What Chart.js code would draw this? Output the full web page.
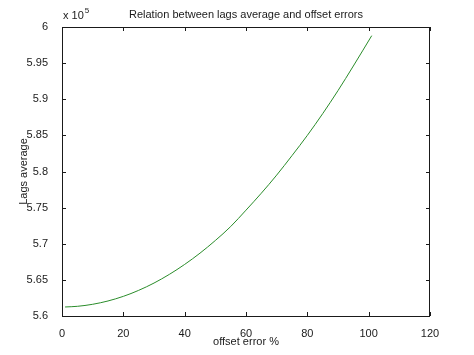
<!DOCTYPE html>
<html>
<head>
<meta charset="utf-8">
<script src="https://cdn.jsdelivr.net/npm/chart.js@4/dist/chart.umd.min.js"></script>
<style>
html,body{margin:0;padding:0;background:#fff;}
#wrap{width:474px;height:355px;}
</style>
</head>
<body>
<div id="wrap"><canvas id="c" width="474" height="355"></canvas></div>
<script>
// Data
const offsetError = [1, 5, 10, 15, 20, 25, 30, 35, 40, 45, 50, 55, 60, 65, 70, 75, 80, 85, 90, 95, 101];
const lagsAverage = [561250, 561340, 561620, 562080, 562720, 563550, 564560, 565760, 567140, 568700, 570450, 572380, 574650, 577000, 579500, 582200, 585000, 588000, 591200, 594600, 598800];
const xTicks = [0, 20, 40, 60, 80, 100, 120];
const yTicks = [560000, 565000, 570000, 575000, 580000, 585000, 590000, 595000, 600000];
const titleText = 'Relation between lags average and offset errors';
const xLabel = 'offset error %';
const yLabel = 'Lags average';

const FONT = '"Liberation Sans", Arial, sans-serif';
const INK = '#1a1a1a';

const points = offsetError.map((x, i) => ({x: x, y: lagsAverage[i]}));

const boxPlugin = {
  id: 'matlabBox',
  afterDraw(chart) {
    const {ctx, chartArea: a, scales} = chart;
    ctx.save();
    ctx.strokeStyle = INK;
    ctx.lineWidth = 1;
    ctx.beginPath();
    ctx.rect(Math.round(a.left) + 0.5, Math.round(a.top) + 0.5,
             Math.round(a.right - a.left) - 1, Math.round(a.bottom - a.top));
    ctx.stroke();
    const tl = 4;
    ctx.beginPath();
    xTicks.forEach(v => {
      const px = Math.round(scales.x.getPixelForValue(v)) + 0.5;
      ctx.moveTo(px, a.bottom); ctx.lineTo(px, a.bottom - tl);
      ctx.moveTo(px, a.top); ctx.lineTo(px, a.top + tl);
    });
    yTicks.forEach(v => {
      const py = Math.round(scales.y.getPixelForValue(v)) + 0.5;
      ctx.moveTo(a.left, py); ctx.lineTo(a.left + tl, py);
      ctx.moveTo(a.right, py); ctx.lineTo(a.right - tl, py);
    });
    ctx.stroke();
    // exponent marker
    ctx.fillStyle = INK;
    ctx.textBaseline = 'alphabetic';
    ctx.textAlign = 'left';
    ctx.font = '11px ' + FONT;
    ctx.fillText('x 10', a.left + 1, 19);
    const w = ctx.measureText('x 10').width;
    ctx.font = '8px ' + FONT;
    ctx.fillText('5', a.left + 1 + w + 1, 13);
    ctx.restore();
  }
};

new Chart(document.getElementById('c'), {
  type: 'line',
  data: {
    datasets: [{
      data: points,
      borderColor: '#2a8c2a',
      borderWidth: 1,
      pointRadius: 0,
      cubicInterpolationMode: 'monotone',
      fill: false
    }]
  },
  options: {
    responsive: false,
    animation: false,
    layout: {padding: {left: 0, right: 44, top: 0, bottom: 0}},
    plugins: {
      legend: {display: false},
      tooltip: {enabled: false},
      title: {
        display: true,
        text: titleText,
        fullSize: false,
        color: INK,
        font: {family: FONT, size: 11, weight: 'normal'},
        padding: {top: 8, bottom: 5.8}
      }
    },
    scales: {
      x: {
        type: 'linear',
        min: 0, max: 120,
        afterBuildTicks(s) { s.ticks = xTicks.map(v => ({value: v})); },
        afterFit(s) { s.height = 39; },
        grid: {display: false},
        border: {display: false},
        ticks: {color: INK, font: {family: FONT, size: 11}, padding: 3, maxRotation: 0,
                callback: v => String(v)},
        title: {display: true, text: xLabel, color: INK,
                font: {family: FONT, size: 11}, padding: {top: 0, bottom: 6}}
      },
      y: {
        type: 'linear',
        min: 560000, max: 600000,
        afterBuildTicks(s) { s.ticks = yTicks.map(v => ({value: v})); },
        afterFit(s) { s.width = 62; },
        grid: {display: false},
        border: {display: false},
        ticks: {color: INK, font: {family: FONT, size: 11}, padding: 6,
                callback: v => String(Number((v / 1e5).toFixed(2)))},
        title: {display: true, text: yLabel, color: INK,
                font: {family: FONT, size: 11}, padding: {top: 17, bottom: 0}}
      }
    }
  },
  plugins: [boxPlugin]
});
</script>
</body>
</html>
